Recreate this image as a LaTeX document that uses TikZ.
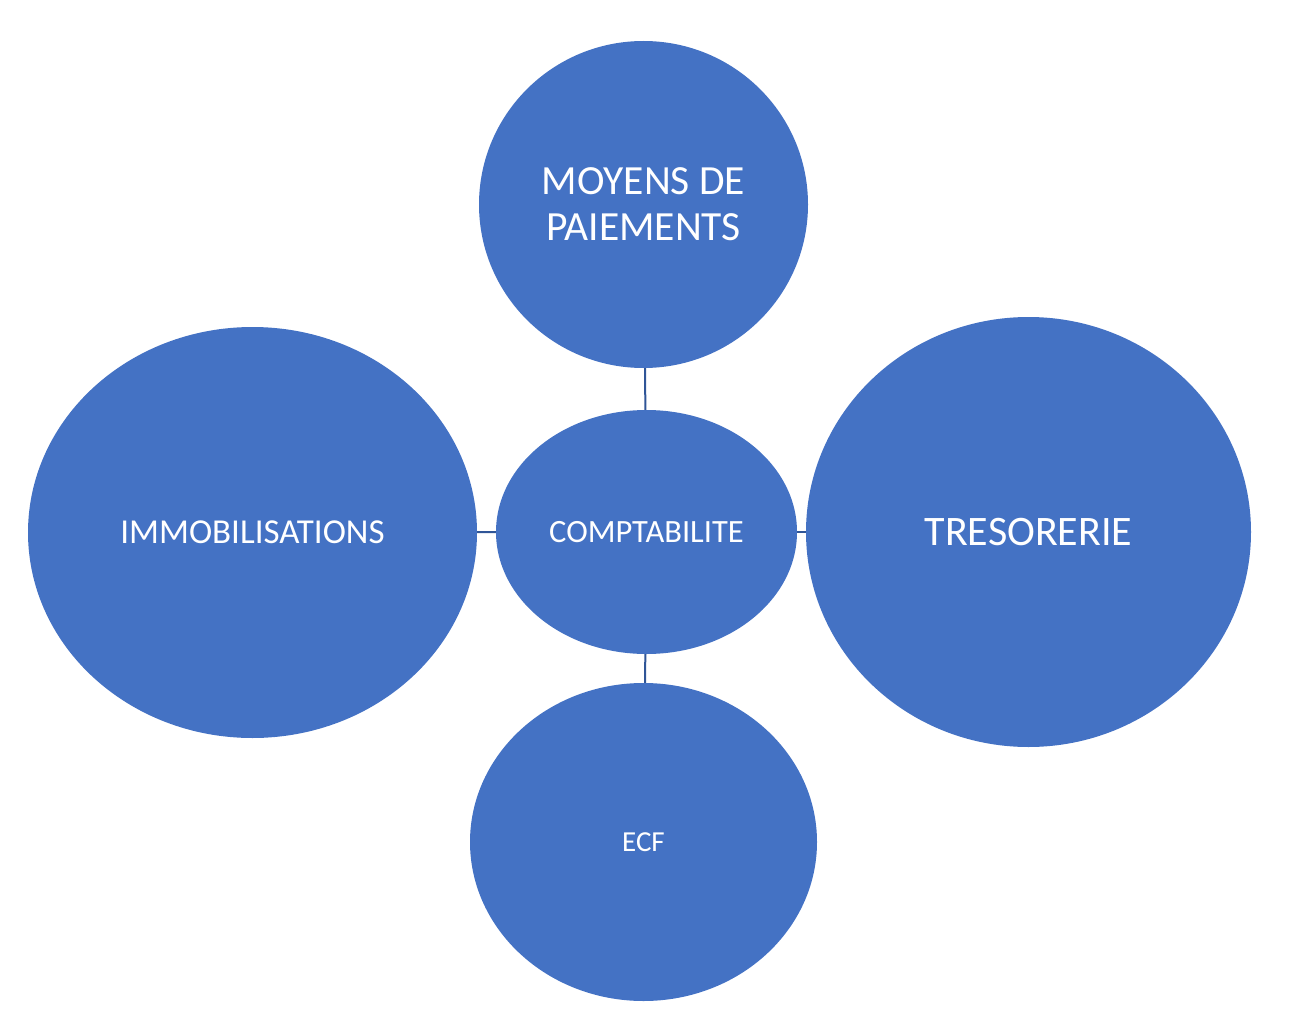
\documentclass[tikz,border=0pt]{standalone}
\usepackage{fontspec}
\setmainfont{Carlito}
\usetikzlibrary{shapes.geometric}
\definecolor{bubble}{HTML}{4472C4}
\definecolor{link}{HTML}{2F5597}
\tikzset{
  bubblenode/.style={ellipse, fill=bubble, inner sep=0pt, text=white, align=center},
  linkline/.style={draw=link, line width=2pt}
}
\begin{document}
\begin{tikzpicture}[x=1pt,y=-1pt]
\useasboundingbox (0,0) rectangle (1301,1022);
\node[bubblenode, minimum width=329pt, minimum height=327pt,
      font=\fontsize{41.5}{46}\selectfont] (top) at (643.5,204.5) {MOYENS DE\\PAIEMENTS};
\node[bubblenode, minimum width=301pt, minimum height=244pt,
      font=\fontsize{32.5}{36}\selectfont] (center) at (646.5,532) {COMPTABILITE};
\node[bubblenode, minimum width=449pt, minimum height=411pt,
      font=\fontsize{35}{40}\selectfont] (left) at (252.5,532.5) {IMMOBILISATIONS};
\node[bubblenode, minimum width=445pt, minimum height=430pt,
      font=\fontsize{42}{48}\selectfont] (right) at (1028.5,532) {TRESORERIE};
\node[bubblenode, minimum width=347pt, minimum height=318pt,
      font=\fontsize{29}{34}\selectfont] (bottom) at (643.5,842) {ECF};
\draw[linkline] (top) -- (center);
\draw[linkline] (left) -- (center);
\draw[linkline] (center) -- (right);
\draw[linkline] (center) -- (bottom);
\end{tikzpicture}
\end{document}
